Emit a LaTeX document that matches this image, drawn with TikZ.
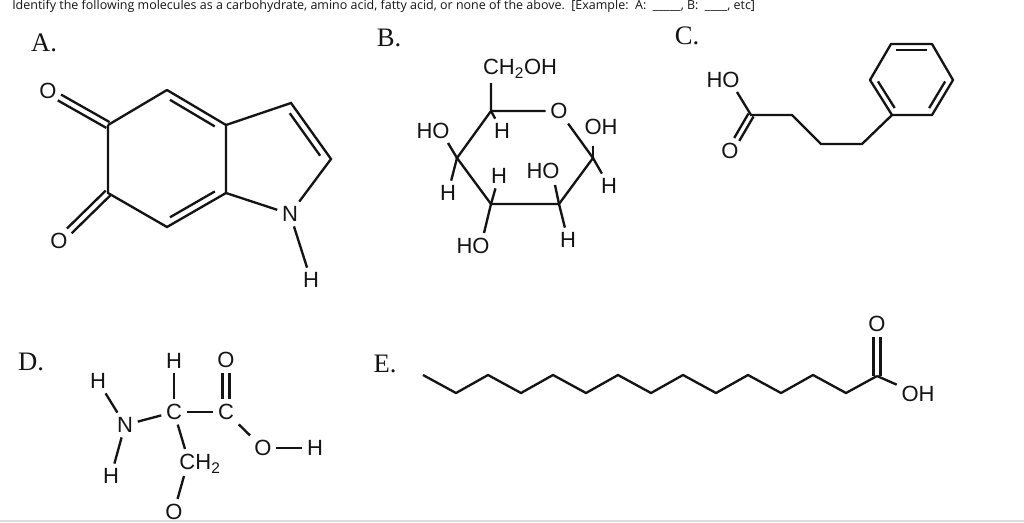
\documentclass[tikz,border=0pt]{standalone}
\usepackage{fontspec}
\setmainfont{Liberation Sans}
\newfontfamily\topfont{Open Sans}
\newfontfamily\letterfont{Liberation Serif}
\usetikzlibrary{calc}
\definecolor{ink}{HTML}{141414}
\tikzset{
  bond/.style={draw=ink,line width=1.75pt,line join=miter,line cap=butt},
  atom/.style={font=\fontsize{16.5}{16.5}\selectfont,text=ink,inner sep=1.2pt,outer sep=2.4pt},
  letter/.style={font=\letterfont\fontsize{20}{20}\selectfont,text=ink,inner sep=0pt},
  headline/.style={font=\topfont\fontsize{9.36}{10}\selectfont,text=ink,inner sep=0pt,anchor=west}
}
% inner line of a double bond: from, to, offset
\newcommand\dblin[3]{\draw[bond] ($(#1)!.11!(#2)!#3!90:(#2)$) -- ($(#1)!.87!(#2)!#3!-90:(#1)$);}
% pair of lines: from, to, half offset, start fraction, end fraction
\newcommand\dblboth[5]{\draw[bond] ($(#1)!#4!(#2)!#3!90:(#2)$) -- ($(#1)!#5!(#2)!#3!-90:(#1)$);
  \draw[bond] ($(#1)!#4!(#2)!#3!-90:(#2)$) -- ($(#1)!#5!(#2)!#3!90:(#1)$);}
\begin{document}
\begin{tikzpicture}[x=0.75pt,y=-0.75pt]
\useasboundingbox (0,0) rectangle (1024,522);
\clip (0,0) rectangle (1024,522);
\fill[white] (0,0) rectangle (1024,522);
\node[headline] (title) at (12,6.3) {Identify the following molecules as a carbohydrate, amino acid, fatty acid, or none of the above.\ \ [Example:\ \ A:\ \ \_\_\_\_\_, B:\ \ \_\_\_\_, etc]};
\node[letter] (la) at (44,43) {A.};
\node[letter] (lb) at (389,38) {B.};
\node[letter] (lc) at (687,36) {C.};
\node[letter] (ld) at (31,362) {D.};
\node[letter] (le) at (385,364) {E.};

% ---- A
\coordinate (a1) at (108,125);
\coordinate (a2) at (167,90);
\coordinate (a3) at (226,125);
\coordinate (a4) at (226,193);
\coordinate (a5) at (167,227);
\coordinate (a6) at (108,193);
\coordinate (a7) at (291,103);
\coordinate (a8) at (331,159);
\node[atom] (aN) at (290,214) {N};
\node[atom] (aH) at (311,280) {H};
\node[atom] (aO1) at (48,91) {O};
\node[atom] (aO2) at (59,241) {O};
\draw[bond,line join=round] (a1) -- (a2) -- (a3) -- (a4);
\draw[bond] (a4) -- (a5) -- (a6) -- (a1);
\draw[bond] (a3) -- (a7) -- (a8) -- (aN);
\draw[bond] (a4) -- (aN) -- (aH);
\dblin{a2}{a3}{-5.2pt}
\dblin{a5}{a4}{5.2pt}
\dblin{a7}{a8}{-5.2pt}
\dblboth{aO1}{a1}{2.5pt}{.19}{1}
\dblboth{aO2}{a6}{2.5pt}{.21}{1}

% ---- B
\node[atom] (bT) at (520,69) {CH\textsubscript{2}OH};
\coordinate (bT0) at (491,83);
\coordinate (b5) at (491,111);
\node[atom] (bO) at (559,111) {O};
\coordinate (b1) at (593,158);
\coordinate (b2) at (559,204);
\coordinate (b3) at (491,204);
\coordinate (b4) at (457,158);
\node[atom] (bH5) at (502,131) {H};
\node[atom] (bOH1) at (601,127) {OH};
\node[atom] (bH1) at (609,186) {H};
\node[atom] (bHO2) at (543,171) {HO};
\node[atom] (bH2) at (568,240) {H};
\node[atom] (bH3) at (499,176) {H};
\node[atom] (bHO3) at (473,246) {HO};
\node[atom] (bHO4) at (433,131) {HO};
\node[atom] (bH4) at (448,193) {H};
\coordinate (bOH1e) at (593,146);
\coordinate (bHO2e) at (555,185);
\coordinate (bHO3e) at (484,233);
\coordinate (bHO4e) at (448,143);
\draw[bond] (bT0) -- (b5) -- (bO) -- (b1) -- (b2) -- (b3) -- (b4) -- (b5);
\draw[bond] (b5) -- (bH5);
\draw[bond] (b1) -- (bOH1e);
\draw[bond] (b1) -- (bH1);
\draw[bond] (b2) -- (bHO2e);
\draw[bond] (b2) -- (bH2);
\draw[bond] (b3) -- (bH3);
\draw[bond] (b3) -- (bHO3e);
\draw[bond] (b4) -- (bHO4e);
\draw[bond] (b4) -- (bH4);

% ---- C
\node[atom] (cHO) at (723,80) {HO};
\node[atom] (cO) at (730,151) {O};
\coordinate (c1) at (751,115);
\coordinate (c2) at (792,115);
\coordinate (c3) at (821,144);
\coordinate (c4) at (862,144);
\coordinate (p1) at (892,115);
\coordinate (p2) at (932,115);
\coordinate (p3) at (953,80);
\coordinate (p4) at (932,44);
\coordinate (p5) at (891,44);
\coordinate (p6) at (870,80);
\coordinate (cHOe) at (737,92);
\draw[bond] (cHOe) -- (c1) -- (c2) -- (c3) -- (c4) -- (p1);
\draw[bond,line join=round] (p1) -- (p2) -- (p3) -- (p4) -- (p5) -- (p6) -- cycle;
\dblin{p5}{p4}{-4.5pt}
\dblin{p1}{p6}{-4.5pt}
\dblin{p2}{p3}{4.5pt}
\dblboth{cO}{c1}{2.2pt}{.32}{1}

% ---- D
\node[atom] (dH1) at (98,381) {H};
\node[atom] (dN) at (125,425) {N};
\node[atom] (dH2) at (111,476) {H};
\node[atom] (dC1) at (174,412) {C};
\node[atom] (dHt) at (174,361) {H};
\node[atom] (dC2) at (226,412) {C};
\node[atom] (dOt) at (226,360) {O};
\node[atom] (dO) at (263,448) {O};
\node[atom] (dH3) at (315,448) {H};
\node[atom] (dCH) at (200,464) {CH\textsubscript{2}};
\node[atom] (dOb) at (174,511.5) {O};
\coordinate (dCHt) at (185,449);
\coordinate (dCHb) at (184,476);
\draw[bond] (dH1) -- (dN);
\draw[bond] (dN) -- (dH2);
\draw[bond] (dN) -- (dC1);
\draw[bond] (dHt) -- (dC1);
\draw[bond] (dC1) -- (dC2);
\draw[bond] (dC2) -- (dO);
\draw[bond] (dO) -- (dH3);
\draw[bond] (dC1) -- (dCHt);
\draw[bond] (dCHb) -- (dOb);
\dblboth{dOt}{dC2}{2.6pt}{.25}{.75}

% ---- E
\coordinate (e0) at (423,375);
\coordinate (e1) at (456,393);
\coordinate (e2) at (488,375);
\coordinate (e3) at (521,393);
\coordinate (e4) at (553,375);
\coordinate (e5) at (586,393);
\coordinate (e6) at (618,375);
\coordinate (e7) at (651,393);
\coordinate (e8) at (683,375);
\coordinate (e9) at (716,393);
\coordinate (e10) at (748,375);
\coordinate (e11) at (781,393);
\coordinate (e12) at (813,375);
\coordinate (e13) at (846,393);
\coordinate (e14) at (877,376);
\node[atom] (eO) at (877,324) {O};
\node[atom] (eOH) at (918,394) {OH};
\draw[bond,line join=round] (e0) -- (e1) -- (e2) -- (e3) -- (e4) -- (e5) -- (e6) -- (e7) -- (e8) -- (e9) -- (e10) -- (e11) -- (e12) -- (e13) -- (e14);
\draw[bond] (e14) -- (eOH);
\dblboth{eO}{e14}{2.6pt}{.25}{1}
\fill[black!14] (0,520) rectangle (1024,522);
\end{tikzpicture}
\end{document}
